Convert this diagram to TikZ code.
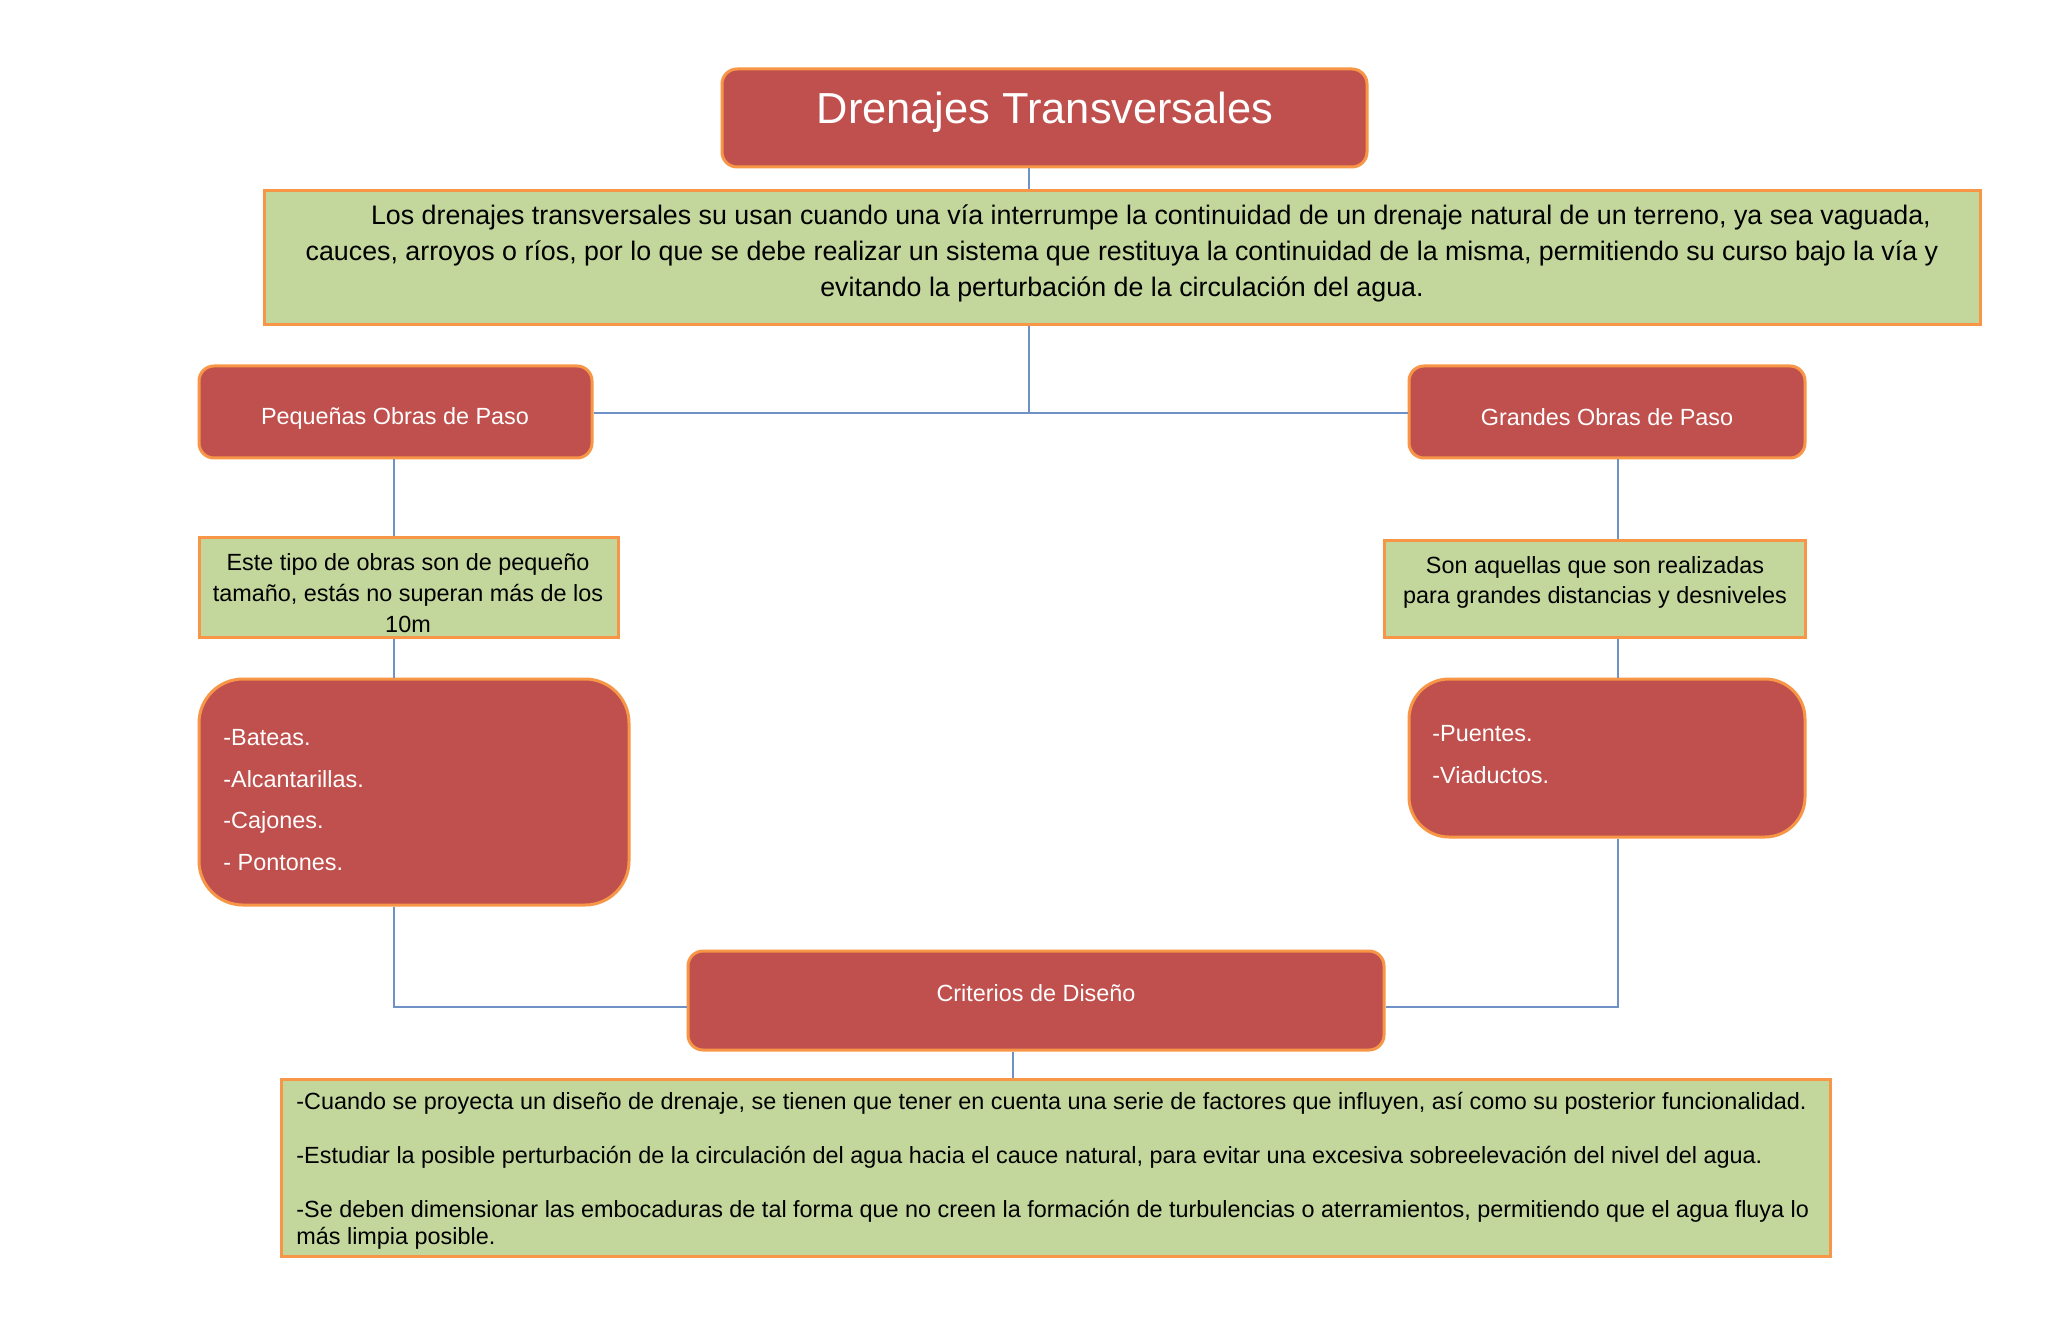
\documentclass[tikz,border=0pt]{standalone}
\usepackage{fontspec}
\setmainfont{Liberation Sans}
\usetikzlibrary{fit}
\definecolor{boxred}{HTML}{C0504D}
\definecolor{boxorange}{HTML}{F79646}
\definecolor{boxgreen}{HTML}{C3D69B}
\definecolor{linkblue}{HTML}{6F92C6}
\begin{document}
\begin{tikzpicture}[x=0.5pt,y=-0.5pt,
  redbox/.style={draw=boxorange, fill=boxred, line width=1.5pt, rounded corners=7.5pt, inner sep=0pt},
  greenbox/.style={draw=boxorange, fill=boxgreen, line width=1.5pt, inner sep=0pt},
  link/.style={draw=linkblue, line width=0.6pt},
  wtext/.style={text=white, inner sep=0pt},
  btext/.style={text=black, inner sep=0pt}]
\useasboundingbox[fill=white] (0,0) rectangle (2048,1325);

% boxes
\node[redbox, fit={(722,69) (1367,167)}] (title) {};
\node[greenbox, fit={(264,191) (1980,325)}] (desc) {};
\node[redbox, fit={(199,366) (592,458)}] (peq) {};
\node[redbox, fit={(1409,366) (1805,458)}] (gran) {};
\node[greenbox, fit={(199,538) (618,637)}] (green1) {};
\node[greenbox, fit={(1384,541) (1805,637)}] (green2) {};
\node[redbox, rounded corners=22pt, fit={(199,679) (629,905)}] (list1) {};
\node[redbox, rounded corners=20pt, fit={(1409,679) (1805,837)}] (list2) {};
\node[redbox, fit={(688,951) (1384,1050)}] (crit) {};
\node[greenbox, fit={(281,1079) (1830,1256)}] (bottom) {};

% connectors
\coordinate (jt) at (1029,413);
\coordinate (jl) at (394,1007);
\coordinate (jr) at (1618,1007);
\coordinate (jb) at (1013,1050);
\draw[link] (title.south -| jt) -- (desc.north -| jt);
\draw[link] (desc.south -| jt) -- (jt);
\draw[link] (peq.east |- jt) -- (gran.west |- jt);
\draw[link] (peq.south -| jl) -- (green1.north -| jl);
\draw[link] (green1.south -| jl) -- (list1.north -| jl);
\draw[link] (list1.south -| jl) -- (jl) -- (crit.west |- jl);
\draw[link] (gran.south -| jr) -- (green2.north -| jr);
\draw[link] (green2.south -| jr) -- (list2.north -| jr);
\draw[link] (list2.south -| jr) -- (jr) -- (crit.east |- jr);
\draw[link] (crit.south -| jb) -- (bottom.north -| jb);

% texts
\node[wtext, font=\fontsize{21.7}{26}\selectfont] (titletext) at (1045,112) {Drenajes Transversales};
\node[btext, align=center, font=\fontsize{13.4}{18}\selectfont] (desctext) at (1122,253)
 {\hspace*{29pt}Los drenajes transversales su usan cuando una vía interrumpe la continuidad de un drenaje natural de un terreno, ya sea vaguada,\\
  cauces, arroyos o ríos, por lo que se debe realizar un sistema que restituya la continuidad de la misma, permitiendo su curso bajo la vía y\\
  evitando la perturbación de la circulación del agua.};
\node[wtext, font=\fontsize{11.7}{14}\selectfont] (peqtext) at (395,418) {Pequeñas Obras de Paso};
\node[wtext, font=\fontsize{11.7}{14}\selectfont] (grantext) at (1607,417) {Grandes Obras de Paso};
\node[btext, align=center, font=\fontsize{11.7}{15.5}\selectfont] (green1text) at (408,593)
 {Este tipo de obras son de pequeño\\tamaño, estás no superan más de los\\10m};
\node[btext, align=center, font=\fontsize{11.7}{15}\selectfont] (green2text) at (1595,582)
 {Son aquellas que son realizadas\\para grandes distancias y desniveles};
\node[wtext, anchor=west, align=left, font=\fontsize{11.7}{20.7}\selectfont] (list1text) at (223,800)
 {-Bateas.\\-Alcantarillas.\\-Cajones.\\- Pontones.};
\node[wtext, anchor=west, align=left, font=\fontsize{11.7}{21}\selectfont] (list2text) at (1432,755)
 {-Puentes.\\-Viaductos.};
\node[wtext, font=\fontsize{11.7}{14}\selectfont] (crittext) at (1036,993) {Criterios de Diseño};
\node[btext, anchor=west, align=left, font=\fontsize{11.7}{13.5}\selectfont] (bottomtext) at (296,1171)
 {-Cuando se proyecta un diseño de drenaje, se tienen que tener en cuenta una serie de factores que influyen, así como su posterior funcionalidad.\\[13.5pt]
  -Estudiar la posible perturbación de la circulación del agua hacia el cauce natural, para evitar una excesiva sobreelevación del nivel del agua.\\[13.5pt]
  -Se deben dimensionar las embocaduras de tal forma que no creen la formación de turbulencias o aterramientos, permitiendo que el agua fluya lo\\
  más limpia posible.};
\end{tikzpicture}
\end{document}
